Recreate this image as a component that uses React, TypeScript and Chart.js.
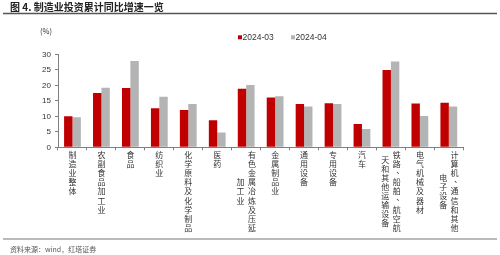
import { useEffect, useRef } from 'react';
import { Chart, registerables } from 'chart.js';

Chart.register(...registerables);

// ---- data ----
const categoryColumns: string[][] = [
  ['制造业整体'],
  ['农副食品加工业'],
  ['食品'],
  ['纺织业'],
  ['化学原料及化学制品'],
  ['医药'],
  ['有色金属冶炼及压延', '加工业'],
  ['金属制品业'],
  ['通用设备'],
  ['专用设备'],
  ['汽车'],
  ['铁路、船舶、航空航', '天和其他运输设备'],
  ['电气机械及器材'],
  ['计算机、通信和其他', '电子设备'],
];
const categories = categoryColumns.map((c) => c.join(''));
const seriesNames = ['2024-03', '2024-04'];
const march = [10.0, 17.5, 19.1, 12.6, 12.0, 8.7, 18.9, 16.1, 14.0, 14.2, 7.5, 24.9, 14.1, 14.4];
const april = [9.7, 19.2, 27.8, 16.3, 14.0, 4.8, 20.1, 16.5, 13.2, 14.0, 5.9, 27.7, 10.1, 13.2];
const yMin = 0;
const yMax = 30;
const yStep = 5;

const title = '图 4. 制造业投资累计同比增速一览';
const unitLabel = '(%)';
const sourceText = '资料来源：wind，红塔证券';

const RED = '#C00000';
const GRAY = '#B4B4B4';
const CJK = '"Noto Sans CJK SC", "Noto Sans", sans-serif';
const LATIN = '"Liberation Sans", Arial, sans-serif';

const decor = {
  id: 'decor',
  afterDraw(chart: any) {
    const ctx = chart.ctx as CanvasRenderingContext2D;
    ctx.save();
    // title
    ctx.fillStyle = '#222';
    ctx.font = `bold 10px ${CJK}`;
    ctx.textBaseline = 'middle';
    ctx.textAlign = 'left';
    ctx.fillText(title, 10, 7);
    // title rule
    ctx.strokeStyle = '#555';
    ctx.lineWidth = 1.5;
    ctx.beginPath();
    ctx.moveTo(3, 13.5);
    ctx.lineTo(497, 13.5);
    ctx.stroke();
    // unit
    ctx.fillStyle = '#333';
    ctx.font = `7.5px ${CJK}`;
    ctx.fillText(unitLabel, 40, 31.5);
    // legend
    const legendItems = chart.data.datasets.map((d: any) => ({ label: d.label, color: d.backgroundColor }));
    const legendX = [238, 291];
    ctx.font = `8.5px ${LATIN}`;
    legendItems.forEach((it: any, i: number) => {
      ctx.fillStyle = it.color;
      ctx.fillRect(legendX[i], 35.3, 4, 4);
      ctx.fillStyle = '#333';
      ctx.fillText(it.label, legendX[i] + 4.5, 37.5);
    });
    // category labels (vertical)
    const xs = chart.scales.x;
    const step = 9.1;
    const top = 155;
    ctx.font = `8px ${CJK}`;
    ctx.textAlign = 'center';
    ctx.fillStyle = '#333';
    categoryColumns.forEach((cols, i) => {
      const cx = xs.getPixelForValue(i);
      const maxLen = Math.max(...cols.map((c) => Array.from(c).length));
      cols.forEach((col, j) => {
        const x = cols.length === 1 ? cx : cx + (j === 0 ? 5.7 : -5.7);
        const chars = Array.from(col);
        const off = ((maxLen - chars.length) / 2) * step;
        chars.forEach((ch, k) => {
          const y = top + off + k * step;
          if (ch === '、' || ch === '，') {
            ctx.fillText(ch, x + 3.5, y - 3.5);
          } else {
            ctx.fillText(ch, x, y);
          }
        });
      });
    });
    // bottom rule
    ctx.strokeStyle = '#777';
    ctx.lineWidth = 1.2;
    ctx.beginPath();
    ctx.moveTo(3, 239);
    ctx.lineTo(497, 239);
    ctx.stroke();
    // source
    ctx.textAlign = 'left';
    ctx.fillStyle = '#555';
    ctx.font = `7px ${CJK}`;
    ctx.fillText(sourceText, 10, 249);
    ctx.restore();
  },
};

export default function App() {
  const ref = useRef<HTMLCanvasElement>(null);
  useEffect(() => {
    document.body.style.margin = '0';
    const chart = new Chart(ref.current!, {
      type: 'bar',
      data: {
        labels: categories,
        datasets: [
          { label: seriesNames[0], data: march, backgroundColor: RED, borderWidth: 0 },
          { label: seriesNames[1], data: april, backgroundColor: GRAY, borderWidth: 0 },
        ],
      },
      options: {
        responsive: false,
        animation: false,
        devicePixelRatio: 1,
        layout: { padding: { left: 0, top: 54.3, right: 36.7, bottom: 0 } },
        plugins: { legend: { display: false }, tooltip: { enabled: false }, title: { display: false } },
        datasets: { bar: { barPercentage: 1, categoryPercentage: 0.58 } },
        scales: {
          x: {
            grid: { drawOnChartArea: false, drawTicks: true, tickLength: 3, color: '#7f7f7f', offset: true },
            border: { display: true, color: '#7f7f7f', width: 1 },
            ticks: { display: false },
            afterFit: (s: any) => {
              s.height = 255 - 147.3;
            },
          },
          y: {
            min: yMin,
            max: yMax,
            grid: { drawOnChartArea: false, drawTicks: true, tickLength: 3, color: '#7f7f7f' },
            border: { display: true, color: '#7f7f7f', width: 1 },
            ticks: {
              stepSize: yStep,
              padding: 4,
              color: '#333',
              font: { family: LATIN, size: 8 },
            },
            afterFit: (s: any) => {
              s.width = 58;
            },
          },
        },
      },
      plugins: [decor],
    });
    return () => chart.destroy();
  }, []);
  return (
    <div style={{ width: 500, height: 255 }}>
      <canvas ref={ref} width={500} height={255} style={{ display: 'block' }} />
    </div>
  );
}
